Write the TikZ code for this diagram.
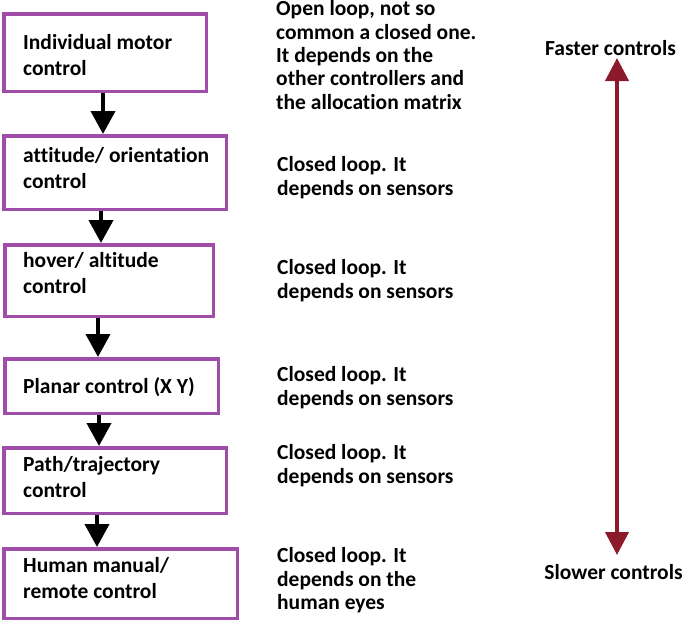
\documentclass[tikz,border=0pt]{standalone}
\usepackage{fontspec}
\setmainfont{Carlito}[Ligatures=NoCommon]
\usetikzlibrary{arrows.meta}
\definecolor{boxpurple}{RGB}{160,77,170}
\definecolor{darkred}{RGB}{139,26,42}
\tikzset{
  box/.style={draw=boxpurple, line width=3.5pt, rectangle, inner sep=0pt},
  boxtext/.style={anchor=base west, align=left, inner sep=0pt, font=\bfseries\fontsize{21.5}{26}\selectfont},
  righttext/.style={anchor=base west, align=left, inner sep=0pt, font=\bfseries\fontsize{21.5}{23.3}\selectfont},
  speedtext/.style={anchor=base, inner sep=0pt, font=\bfseries\fontsize{21.5}{23.3}\selectfont},
  flowarrow/.style={line width=4pt, -{Triangle[width=24pt,length=23pt]}},
  speedarrow/.style={draw=darkred, line width=4pt, {Triangle[width=23pt,length=23pt]}-{Triangle[width=23pt,length=23pt]}}
}
\begin{document}
\begin{tikzpicture}[x=1pt,y=-1pt]
\useasboundingbox (0,0) rectangle (685,622);
% boxes
\node[box, minimum width=202.5pt, minimum height=77.5pt] (b1) at (105,52.5) {};
\node[box, minimum width=222.5pt, minimum height=73.5pt] (b2) at (115,172.5) {};
\node[box, minimum width=208.5pt, minimum height=71.5pt] (b3) at (109,280.5) {};
\node[box, minimum width=213.5pt, minimum height=54.5pt] (b4) at (111.5,386) {};
\node[box, minimum width=222.5pt, minimum height=65.5pt] (b5) at (115,480.5) {};
\node[box, minimum width=233.5pt, minimum height=69.5pt] (b6) at (120.5,583.5) {};
% box texts (anchored at the baseline of the last line)
\node[boxtext] (t1) at (23,75) {Individual motor\\control};
\node[boxtext] (t2) at (23,188) {attitude/ orientation\\control};
\node[boxtext] (t3) at (23,293) {hover/ altitude\\control};
\node[boxtext] (t4) at (23,393) {Planar control (X Y)};
\node[boxtext] (t5) at (23,497) {Path/trajectory\\control};
\node[boxtext] (t6) at (23,598) {Human manual/\\remote control};
% flow arrows
\coordinate (a1) at (103,0);
\coordinate (a2) at (101,0);
\coordinate (a3) at (98,0);
\coordinate (a4) at (99,0);
\coordinate (a5) at (97,0);
\draw[flowarrow] (b1.south -| a1) -- (b2.north -| a1);
\draw[flowarrow] (b2.south -| a2) -- (b3.north -| a2);
\draw[flowarrow] (b3.south -| a3) -- (b4.north -| a3);
\draw[flowarrow] (b4.south -| a4) -- (b5.north -| a4);
\draw[flowarrow] (b5.south -| a5) -- (b6.north -| a5);
% right texts (anchored at the baseline of the last line)
\node[righttext] (r1) at (276,109) {Open loop, not so\\common a closed one.\\It depends on the\\other controllers and\\the allocation matrix};
\node[righttext] (r2) at (277,195) {Closed loop. It\\depends on sensors};
\node[righttext] (r3) at (277,298) {Closed loop. It\\depends on sensors};
\node[righttext] (r4) at (277,405) {Closed loop. It\\depends on sensors};
\node[righttext] (r5) at (277,483) {Closed loop. It\\depends on sensors};
\node[righttext] (r6) at (277,609.5) {Closed loop. It\\depends on the\\human eyes};
% speed labels and arrow
\node[speedtext] (fast) at (610.5,55) {Faster controls};
\node[speedtext] (slow) at (613.5,579) {Slower controls};
\coordinate (top) at (617,58);
\coordinate (bot) at (617,555);
\draw[speedarrow] (top) -- (bot);
\end{tikzpicture}
\end{document}
